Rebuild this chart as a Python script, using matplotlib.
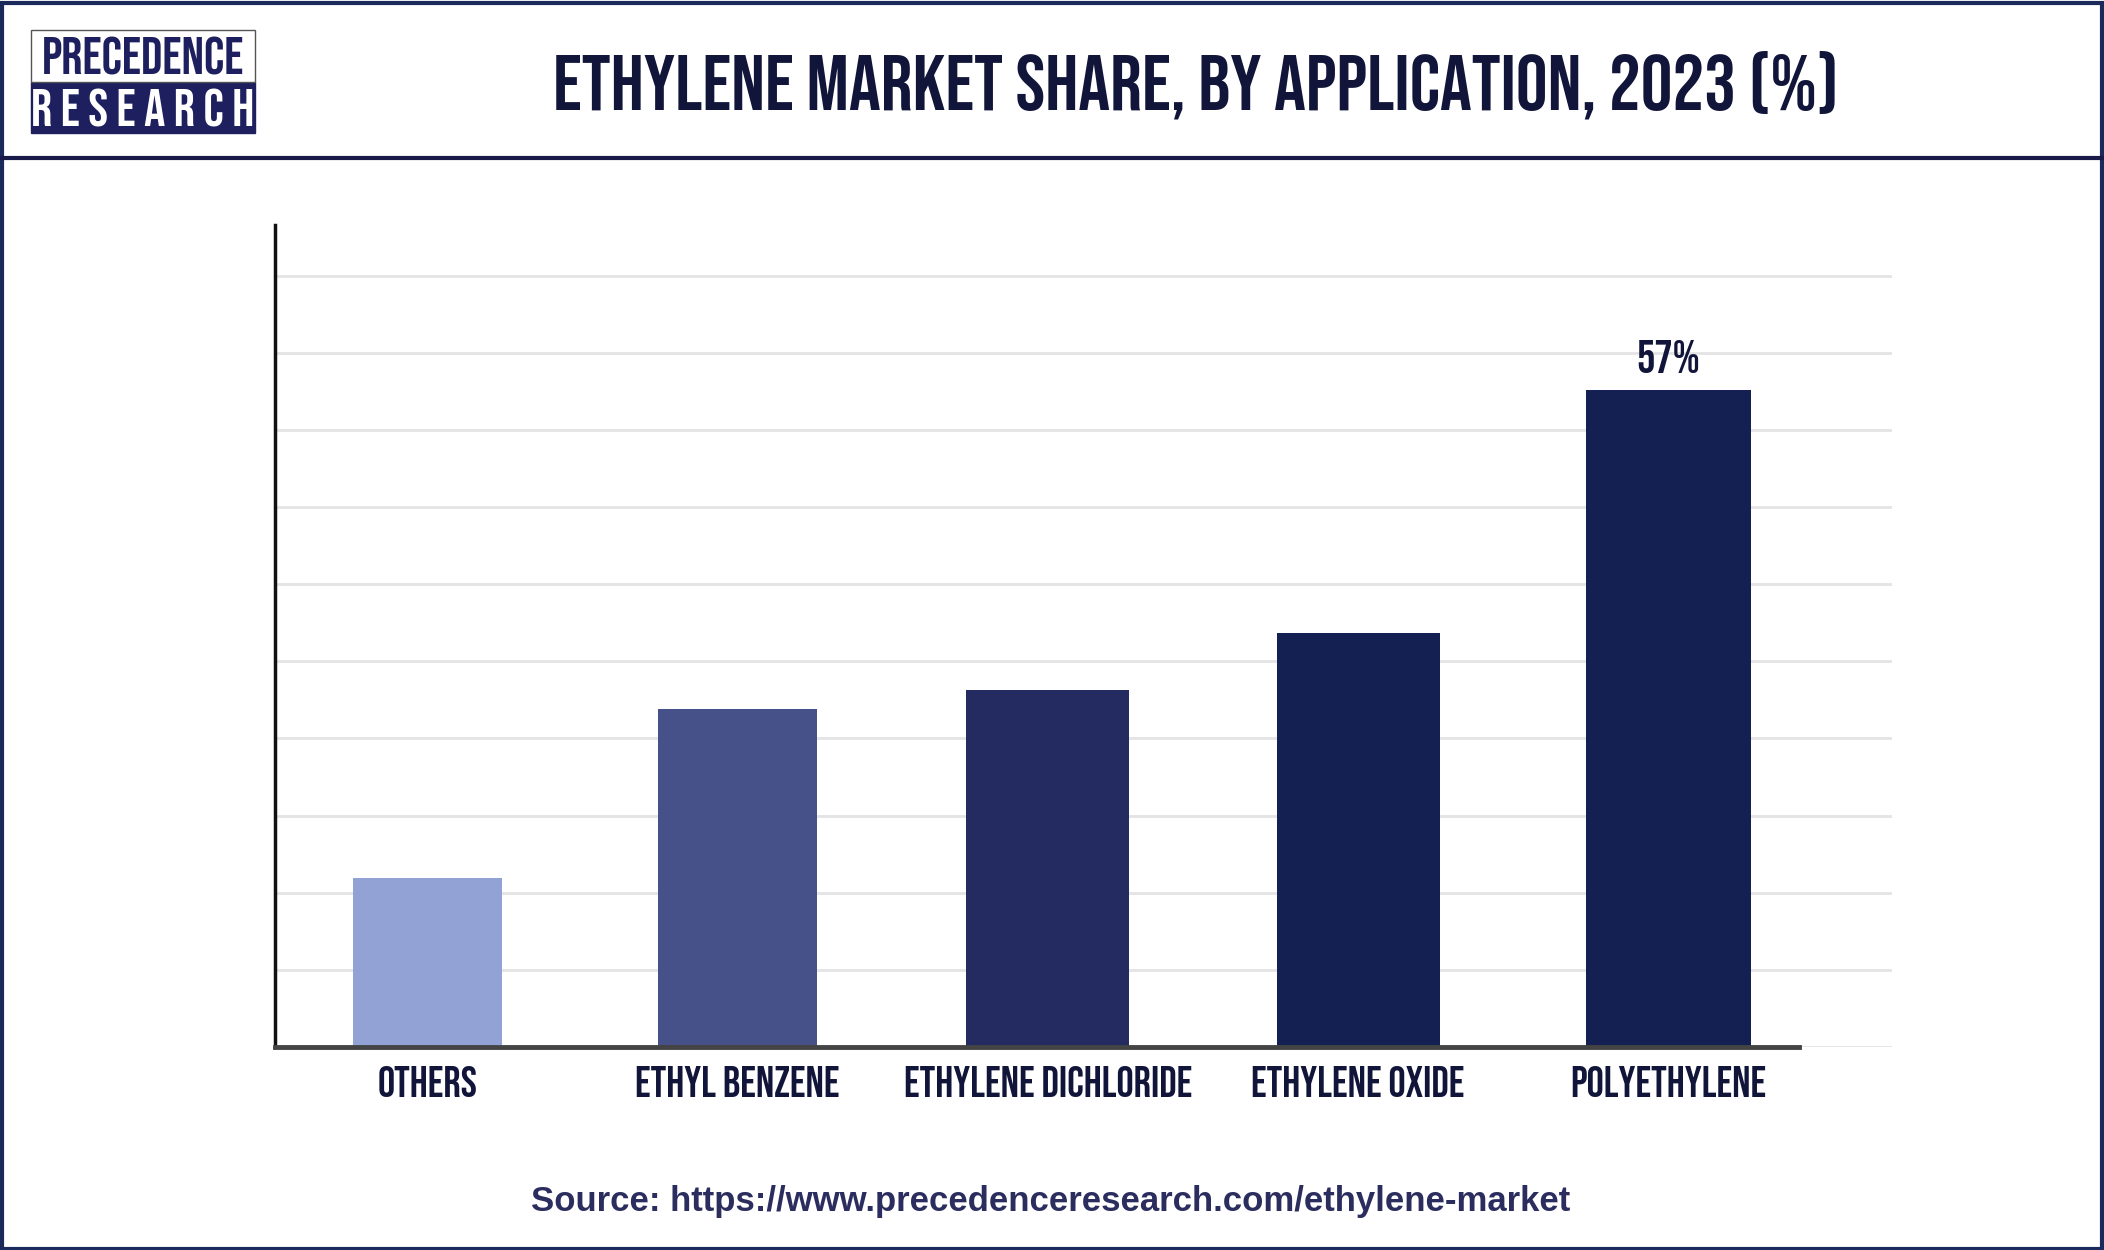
import matplotlib
matplotlib.use('Agg')
import matplotlib.pyplot as plt
from matplotlib import font_manager
from matplotlib.patches import Rectangle
from matplotlib.lines import Line2D
import numpy as np

categories = ['OTHERS', 'ETHYL BENZENE', 'ETHYLENE DICHLORIDE', 'ETHYLENE OXIDE', 'POLYETHYLENE']
shares = [14.7, 29.3, 31.0, 35.9, 57.0]
bar_labels = ['', '', '', '', '57%']
title = 'ETHYLENE MARKET SHARE, BY APPLICATION, 2023 (%)'
source = 'Source: https://www.precedenceresearch.com/ethylene-market'

bar_colors = ['#92A2D5', '#465089', '#232B60', '#141F52', '#141F52']
bar_widths = [0.48, 0.51, 0.525, 0.525, 0.53]
navy = '#12153A'
frame = '#1B2A5A'

# pick a narrow display font if one is there
names = {f.name for f in font_manager.fontManager.ttflist}
cond = 'DejaVu Sans'
for c in ['Bebas Neue', 'Oswald', 'Roboto Condensed', 'Liberation Sans Narrow']:
    if c in names:
        cond = c
        break

W, H = 2104, 1250
fig = plt.figure(figsize=(W / 100, H / 100), dpi=100)
fig.patch.set_facecolor('white')


def fx(x):
    return x / W


def fy(y):
    return 1 - y / H


# plot area in pixels
left, right, bottom, top = 275, 1892, 1047, 225
ax = fig.add_axes([fx(left), fy(bottom), (right - left) / W, (bottom - top) / H])

x = np.arange(len(categories))
bars = ax.bar(x, shares, width=bar_widths, color=bar_colors, zorder=3)
for b, lab in zip(bars, bar_labels):
    if lab:
        ax.text(b.get_x() + b.get_width() / 2, b.get_height() + 1.5, lab,
                ha='center', va='bottom', fontsize=33,
                color=navy, family=cond)

grid_step = 6.69
ax.set_ylim(0, 71.3)
ax.set_xlim(-0.49, 4.72)
ax.set_yticks(np.arange(0, 11) * grid_step)
ax.yaxis.grid(True, color='#E4E4E4', linewidth=2)
ax.set_axisbelow(True)
ax.tick_params(axis='y', length=0, labelleft=False)
ax.set_xticks(x, categories)
ax.tick_params(axis='x', length=0, pad=14)
for t in ax.get_xticklabels():
    t.set_fontsize(31)
    t.set_color(navy)
    t.set_family(cond)

ax.spines[['top', 'right']].set_visible(False)
ax.spines['left'].set_color('#111111')
ax.spines['left'].set_linewidth(2.5)
ax.spines['bottom'].set_color('#444444')
ax.spines['bottom'].set_linewidth(3.5)
ax.spines['bottom'].set_bounds(-0.49, 4.42)
ax.spines['bottom'].set_zorder(4)

# header
fig.add_artist(Line2D([0, 1], [fy(158), fy(158)], color='#1A1A4A', linewidth=3))
fig.add_artist(Rectangle((0.001, 0.001), 0.998, 0.997, fill=False,
                         edgecolor=frame, linewidth=3, transform=fig.transFigure))

# logo
fig.add_artist(Rectangle((fx(31), fy(133)), fx(224), 51 / H, facecolor='#1D1F5E',
                         edgecolor='#1D1F5E', transform=fig.transFigure))
fig.add_artist(Rectangle((fx(31), fy(82)), fx(224), 52 / H, facecolor='white',
                         edgecolor='#555555', linewidth=1, transform=fig.transFigure))
fig.text(fx(143), fy(56), 'PRECEDENCE', ha='center', va='center', fontsize=38,
         color='#1D1F5E', family=cond)
fig.text(fx(143), fy(108), 'R E S E A R C H', ha='center', va='center', fontsize=38,
         color='white', family=cond)

fig.text(fx(1196), fy(85), title, ha='center', va='center', fontsize=57,
         color=navy, family=cond)

fig.text(fx(1051), fy(1201), source, ha='center', va='center', fontsize=25,
         fontweight='bold', color='#2B2D5E', family='Liberation Sans')

fig.savefig('out.png', dpi=100, facecolor=fig.get_facecolor())
